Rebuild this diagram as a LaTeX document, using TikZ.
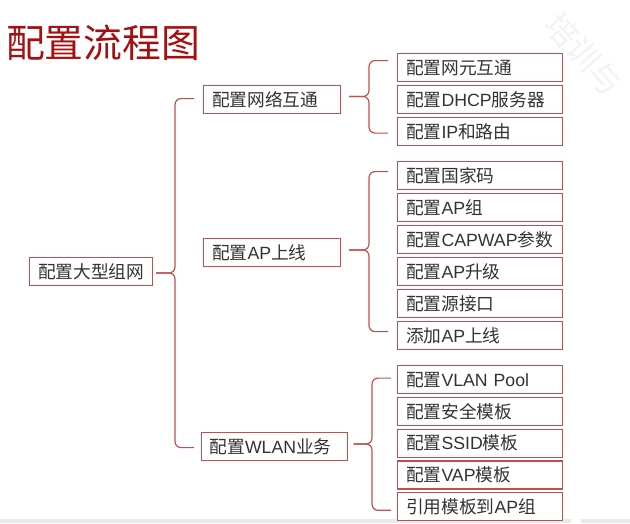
\documentclass[tikz,border=0pt]{standalone}
\usepackage{fontspec}
\setmainfont{Liberation Sans}
\newfontfamily\cjk{Noto Sans CJK SC}
\usetikzlibrary{positioning}
\newcommand{\cn}[1]{{\cjk #1}}
\definecolor{boxred}{HTML}{C0504D}
\definecolor{titlered}{HTML}{A50F0F}
\definecolor{markgray}{HTML}{F2F2F2}
\definecolor{bargray}{HTML}{E9E9E9}
\definecolor{textgray}{HTML}{333333}
\tikzset{
  box/.style={draw=boxred, fill=white, line width=1.2pt, minimum height=28pt, inner xsep=8.5pt, inner ysep=0pt,
    anchor=north west, align=left, text=textgray, font=\fontsize{17.7}{20}\selectfont},
  leaf/.style={box, minimum width=165pt, text width=148pt},
  link/.style={draw=boxred, line width=1.2pt, rounded corners=6pt}
}
\begin{document}
\begin{tikzpicture}[x=1pt, y=-1pt]
  \useasboundingbox (0,0) rectangle (630,523);
  \fill[bargray] (0,519) rectangle (571,523);
  \fill[bargray] (581,519) rectangle (630,523);
  \node[rotate=-48, text=markgray, font=\cjk\fontsize{32}{32}\selectfont] (mark) at (584,54) {培训与};
  \node[anchor=west, inner sep=0pt, text=titlered, font=\cjk\fontsize{38.8}{40}\selectfont] (title) at (6,43) {配置流程图};

  % first level
  \node[box, minimum width=123pt, text width=106pt] (root) at (29,257) {\cn{配置大型组网}};
  \node[box, minimum width=137pt, text width=120pt] (net) at (203,85) {\cn{配置网络互通}};
  \node[box, minimum width=137pt, text width=120pt] (ap) at (203,238) {\cn{配置}AP\cn{上线}};
  \node[box, minimum width=146pt, text width=129pt] (wlan) at (200.5,432) {\cn{配置}WLAN\cn{业务}};

  % leaves
  \node[leaf] (net1) at (397,53) {\cn{配置网元互通}};
  \node[leaf, below=2.8pt of net1.south west, anchor=north west] (net2) {\cn{配置}DHCP\cn{服务器}};
  \node[leaf, below=2.8pt of net2.south west, anchor=north west] (net3) {\cn{配置}IP\cn{和路由}};

  \node[leaf] (ap1) at (397,161) {\cn{配置国家码}};
  \node[leaf, below=2.8pt of ap1.south west, anchor=north west] (ap2) {\cn{配置}AP\cn{组}};
  \node[leaf, below=2.8pt of ap2.south west, anchor=north west] (ap3) {\cn{配置}CAPWAP\cn{参数}};
  \node[leaf, below=2.8pt of ap3.south west, anchor=north west] (ap4) {\cn{配置}AP\cn{升级}};
  \node[leaf, below=2.8pt of ap4.south west, anchor=north west] (ap5) {\cn{配置源接口}};
  \node[leaf, below=2.8pt of ap5.south west, anchor=north west] (ap6) {\cn{添加}AP\cn{上线}};

  \node[leaf] (wlan1) at (397,365) {\cn{配置}VLAN Pool};
  \node[leaf, below=2.6pt of wlan1.south west, anchor=north west] (wlan2) {\cn{配置安全模板}};
  \node[leaf, below=2.6pt of wlan2.south west, anchor=north west] (wlan3) {\cn{配置}SSID\cn{模板}};
  \node[leaf, below=2.6pt of wlan3.south west, anchor=north west] (wlan4) {\cn{配置}VAP\cn{模板}};
  \node[leaf, below=2.6pt of wlan4.south west, anchor=north west] (wlan5) {\cn{引用模板到}AP\cn{组}};

  % braces
  \coordinate (rootspine) at (175,273);
  \coordinate (netspine) at (369,96.5);
  \coordinate (apspine) at (369,250);
  \coordinate (wlanspine) at (372,444);

  \draw[link] ([xshift=3pt]root.east |- rootspine) -- (rootspine) |- ([shift={(-9pt,1pt)}]net.west);
  \draw[link] ([xshift=3pt]root.east |- rootspine) -- (rootspine) |- ([shift={(-6.5pt,-1pt)}]wlan.west);
  \draw[link] ([xshift=8pt]net.east |- netspine) -- (netspine) |- ([shift={(-9pt,7pt)}]net1.west);
  \draw[link] ([xshift=8pt]net.east |- netspine) -- (netspine) |- ([shift={(-9pt,-1.5pt)}]net3.west);
  \draw[link] ([xshift=8pt]ap.east |- apspine) -- (apspine) |- ([shift={(-9pt,4pt)}]ap1.west);
  \draw[link] ([xshift=8pt]ap.east |- apspine) -- (apspine) |- ([shift={(-9pt,4pt)}]ap6.west);
  \draw[link] ([xshift=6pt]wlan.east |- wlanspine) -- (wlanspine) |- ([shift={(-6pt,1.5pt)}]wlan1.west);
  \draw[link] ([xshift=6pt]wlan.east |- wlanspine) -- (wlanspine) |- ([shift={(-6pt,-3.5pt)}]wlan5.west);
\end{tikzpicture}
\end{document}
